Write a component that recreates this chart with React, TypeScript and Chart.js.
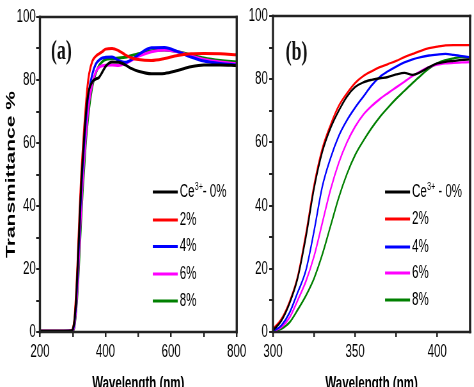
import React, { useEffect, useRef } from 'react';
import { Chart, registerables } from 'chart.js';

Chart.register(...registerables);

// ---------- data ----------
const SERIES_LABELS = ['Ce³⁺- 0%', '2%', '4%', '6%', '8%'];
const SERIES_COLORS = ['#000000', '#ff0000', '#0000ff', '#ff00ff', '#008000'];

// Panel (a): wavelength (nm)
const WL_A = [200, 250, 295, 300, 305, 310, 315, 320, 325, 330, 335, 340, 345, 350, 360, 370, 380, 390, 400, 420, 440, 460, 480, 500, 540, 580, 620, 660, 700, 750, 800];
const A_CE0 = [0.2, 0.2, 0.3, 0.8, 3.5, 10, 21, 33, 45, 54, 62, 69, 74, 77, 79.5, 80.3, 80.8, 82.5, 84.3, 85.7, 85.6, 84.8, 83.6, 82.8, 82, 82.1, 83, 84.2, 84.8, 84.8, 84.6];
const A_CE2 = [0.2, 0.2, 0.3, 1, 4, 12, 23, 36, 48, 57, 65, 72, 78, 82, 86, 87.5, 88.3, 89, 89.8, 90, 89.3, 88, 87, 86.5, 86.2, 86.8, 87.8, 88.3, 88.4, 88.3, 88];
const A_CE4 = [0.2, 0.2, 0.3, 0.6, 3, 9, 19, 31, 43, 52, 60, 67, 73, 77, 82, 85, 86.3, 87, 87.2, 87.3, 86.2, 85.6, 86.5, 88, 90.2, 90.3, 89, 87.3, 86, 85.2, 84.8];
const A_CE6 = [0.2, 0.2, 0.3, 0.4, 2, 7, 15, 26, 37, 47, 55, 62, 68, 73, 79, 82.5, 84, 84.5, 84.7, 84.8, 84.6, 85.2, 86.3, 87.5, 89, 89.5, 89, 87.6, 86.5, 85.7, 85.2];
const A_CE8 = [0.2, 0.2, 0.3, 0.3, 1.5, 6, 13, 23, 34, 44, 52, 60, 66, 71, 78, 82, 84.5, 85.8, 86.5, 86.8, 87, 87.2, 87.8, 88.3, 89.3, 89.5, 89, 88, 87, 86.2, 85.7];

// Panel (b): wavelength (nm)
const WL_B = [300, 305, 310, 315, 320, 325, 330, 335, 340, 345, 350, 355, 360, 365, 370, 375, 380, 385, 390, 395, 400, 405, 410, 415, 420];
const B_CE0 = [0.5, 3.5, 9, 17, 30, 45.5, 57, 64.5, 70, 74.5, 77.5, 79, 79.8, 80.3, 80.7, 81.5, 82, 81.4, 82.3, 83.8, 85, 85.5, 85.8, 86.1, 86.3];
const B_CE2 = [1, 4, 9.5, 17.5, 31, 46.5, 58, 65.5, 71.5, 75.5, 78.8, 81, 82.5, 83.8, 84.8, 85.8, 87, 88, 89, 89.8, 90.3, 90.7, 90.8, 90.8, 90.8];
const B_CE4 = [0.3, 2, 6, 12.5, 19.5, 32, 46, 55, 62, 67, 71, 74.5, 78, 80.7, 82.5, 84, 85.3, 86.3, 87, 87.5, 87.8, 88, 87.7, 87.3, 87];
const B_CE6 = [0.2, 1.5, 4.5, 10, 16, 24, 34.5, 45, 53.5, 60, 65, 68.8, 71.5, 73.7, 75.6, 77.4, 79.2, 81, 82.6, 83.8, 84.6, 85, 85.2, 85.3, 85.4];
const B_CE8 = [0.1, 1, 3, 7, 11.5, 17, 24.5, 33.5, 42.5, 50, 56, 60.5, 64.5, 68, 71, 73.8, 76.3, 78.8, 81.2, 83.4, 85, 86, 86.6, 87, 87];

const A_SERIES = [A_CE0, A_CE2, A_CE4, A_CE6, A_CE8];
const B_SERIES = [B_CE0, B_CE2, B_CE4, B_CE6, B_CE8];

// ---------- layout ----------
const SX = 0.64; // horizontal squeeze of the original figure
const H = 400;
const FONT = "'Liberation Sans', Arial, Helvetica, sans-serif";
const SERIF = "'Liberation Serif', 'Times New Roman', serif";
const AXIS = '#222222';
const TXT = '#000000';

const A_FINAL_W = 248;
const B_FINAL_W = 226;
const WA = Math.round(A_FINAL_W / SX);
const WB = Math.round(B_FINAL_W / SX);

const panelPlugin = {
  id: 'panelDeco',
  afterDraw(chart: any, _args: any, o: any) {
    const { ctx, chartArea } = chart;
    const { left, right, top, bottom } = chartArea;
    ctx.save();
    // frame
    ctx.strokeStyle = AXIS;
    ctx.lineWidth = 2.5;
    ctx.beginPath();
    ctx.moveTo(left - 1.7, top); ctx.lineTo(right + 1.7, top);
    ctx.moveTo(left - 1.7, bottom); ctx.lineTo(right + 1.7, bottom);
    ctx.stroke();
    ctx.lineWidth = 3.4;
    ctx.beginPath();
    ctx.moveTo(left, top - 1.25); ctx.lineTo(left, bottom + 1.25);
    ctx.moveTo(right, top - 1.25); ctx.lineTo(right, bottom + 1.25);
    ctx.stroke();

    // panel label
    ctx.fillStyle = '#111';
    ctx.font = `bold 28px ${SERIF}`;
    ctx.textAlign = 'center';
    ctx.textBaseline = 'middle';
    ctx.fillText(o.panelLabel, o.panelX, o.panelY);

    // legend
    const ds = chart.data.datasets;
    ds.forEach((d: any, i: number) => {
      const y = o.rows[i];
      ctx.strokeStyle = d.borderColor;
      ctx.lineWidth = 3;
      ctx.beginPath();
      ctx.moveTo(o.x0, y); ctx.lineTo(o.x1, y);
      ctx.stroke();
      ctx.fillStyle = TXT;
      ctx.textAlign = 'left';
      ctx.textBaseline = 'middle';
      ctx.font = `18px ${FONT}`;
      if (i === 0) {
        let x = o.tx;
        ctx.fillText('Ce', x, y);
        x += ctx.measureText('Ce').width + 0.5;
        ctx.font = `11px ${FONT}`;
        ctx.textBaseline = 'alphabetic';
        ctx.fillText('3+', x, y - 1.8);
        x += ctx.measureText('3+').width;
        ctx.font = `18px ${FONT}`;
        ctx.textBaseline = 'middle';
        ctx.fillText(o.sep + '- 0%', x, y);
      } else {
        ctx.fillText(d.label, o.tx, y);
      }
    });
    ctx.restore();
  },
};

function makeConfig(p: any) {
  const datasets = SERIES_LABELS.map((label, i) => ({
    label,
    data: p.wl.map((x: number, j: number) => ({ x, y: p.series[i][j] })),
    borderColor: SERIES_COLORS[i],
    backgroundColor: SERIES_COLORS[i],
    borderWidth: p.lineWidth,
    pointRadius: 0,
    cubicInterpolationMode: 'monotone',
    fill: false,
  }));
  return {
    type: 'line',
    data: { datasets },
    plugins: [panelPlugin],
    options: {
      animation: false,
      responsive: false,
      devicePixelRatio: 1,
      layout: { padding: { left: 0, right: p.rightPad, top: p.top, bottom: 0 } },
      plugins: {
        legend: { display: false },
        tooltip: { enabled: false },
        panelDeco: p.deco,
      },
      scales: {
        x: {
          type: 'linear',
          min: p.xmin,
          max: p.xmax,
          ticks: {
            stepSize: p.xstep,
            includeBounds: false,
            autoSkip: false,
            maxRotation: 0,
            padding: 4,
            color: TXT,
            font: { family: FONT, size: 18 },
            callback: (v: number) => (v % p.xlabelStep === 0 ? String(v) : ''),
          },
          grid: { drawOnChartArea: false, tickLength: 5, lineWidth: 2.5, color: AXIS },
          border: { display: false },
          title: {
            display: true,
            text: 'Wavelength (nm)',
            color: TXT,
            font: { family: FONT, size: 18, weight: 'bold' },
            padding: { top: 0, bottom: 5.5 },
          },
          afterFit: (s: any) => {
            s.height = H - 332;
            s.paddingLeft = 0;
            s.paddingRight = 0;
          },
        },
        y: {
          type: 'linear',
          min: 0,
          max: 100,
          ticks: {
            stepSize: 10,
            autoSkip: false,
            padding: p.ypad,
            color: TXT,
            font: { family: FONT, size: 18 },
            callback: (v: number) => (v % 20 === 0 ? String(v) : ''),
          },
          grid: { drawOnChartArea: false, tickLength: 6, lineWidth: 2, color: AXIS },
          border: { display: false },
          title: {
            display: p.ytitle,
            text: 'Transmittance %',
            color: TXT,
            font: { family: FONT, size: 21, weight: 'bold' },
            padding: { top: 4.6, bottom: 0 },
          },
          afterFit: (s: any) => {
            s.width = p.leftW;
            s.paddingTop = 0;
            s.paddingBottom = 0;
          },
        },
      },
    },
  };
}

export default function App() {
  const refA = useRef<HTMLCanvasElement>(null);
  const refB = useRef<HTMLCanvasElement>(null);

  useEffect(() => {
    const a = new Chart(refA.current as HTMLCanvasElement, makeConfig({
      wl: WL_A,
      series: A_SERIES,
      lineWidth: 3,
      xmin: 200, xmax: 800, xstep: 100, xlabelStep: 200,
      top: 17,
      leftW: 40 / SX,
      rightPad: WA - 237 / SX,
      ypad: 0.5,
      ytitle: true,
      deco: {
        panelLabel: '(a)', panelX: 61.5 / SX, panelY: 52,
        x0: 153 / SX, x1: 178 / SX, tx: 180 / SX,
        rows: [192, 220, 246.5, 274, 301],
        sep: '',
      },
    }) as any);
    const b = new Chart(refB.current as HTMLCanvasElement, makeConfig({
      wl: WL_B,
      series: B_SERIES,
      lineWidth: 2.3,
      xmin: 300, xmax: 420, xstep: 25, xlabelStep: 50,
      top: 16,
      leftW: 25 / SX,
      rightPad: WB - 222 / SX,
      ypad: 2,
      ytitle: false,
      deco: {
        panelLabel: '(b)', panelX: 48.5 / SX, panelY: 53,
        x0: 137 / SX, x1: 162 / SX, tx: 164 / SX,
        rows: [192, 219, 247, 273, 300],
        sep: ' ',
      },
    }) as any);
    return () => {
      a.destroy();
      b.destroy();
    };
  }, []);

  return (
    <div style={{ position: 'fixed', left: 0, top: 0, width: 474, height: 387, overflow: 'hidden', background: '#ffffff' }}>
      <canvas ref={refA} width={WA} height={H} style={{ position: 'absolute', left: 0, top: 0, width: A_FINAL_W, height: H }} />
      <canvas ref={refB} width={WB} height={H} style={{ position: 'absolute', left: A_FINAL_W, top: 0, width: B_FINAL_W, height: H }} />
    </div>
  );
}
